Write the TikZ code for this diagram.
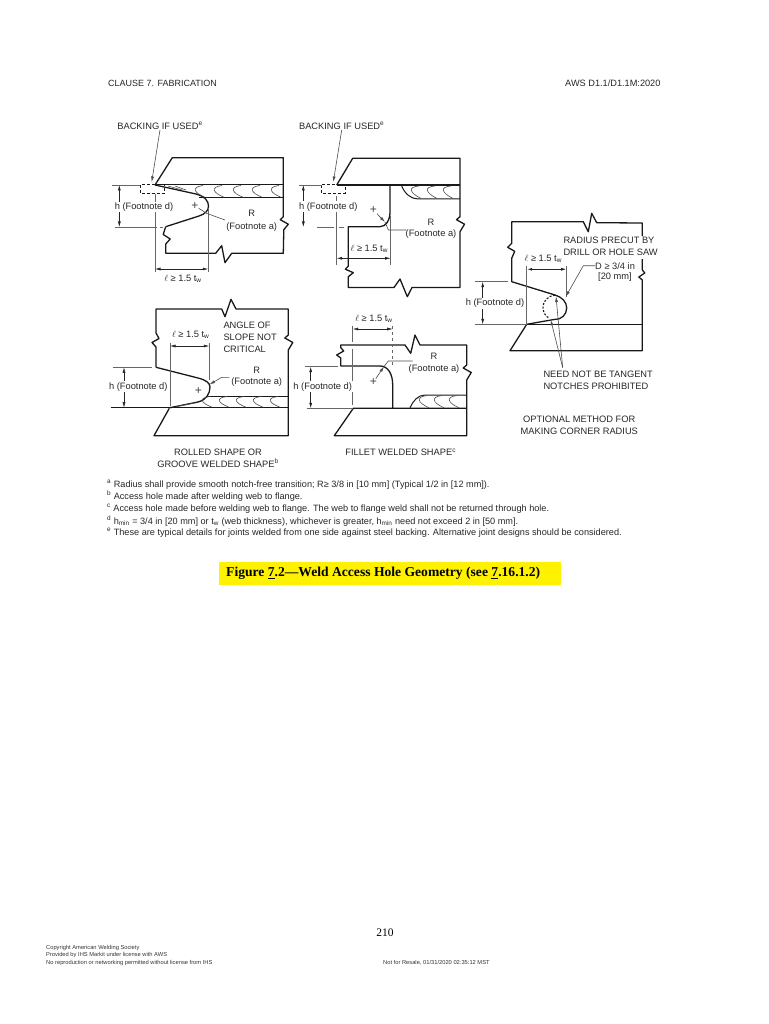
\documentclass[tikz,border=0pt]{standalone}
\usepackage{fontspec}
\setmainfont{Liberation Sans}
\newfontfamily\titlefont{Liberation Serif}
\usetikzlibrary{arrows.meta}

\begin{document}
\begin{tikzpicture}[x=1pt, y=-1pt, >={Latex[length=5.5pt,width=3pt]}]
\tikzstyle{lbl}=[inner sep=0pt, font=\fontsize{9.3}{10}\selectfont, text=black!85, align=center]
\tikzstyle{hlbl}=[lbl, fill=white, inner sep=1pt]
\tikzstyle{lblleft}=[lbl, anchor=west, align=left]
\tikzstyle{note}=[inner sep=0pt, anchor=west, font=\fontsize{9.15}{10}\selectfont, text=black!85]
\tikzstyle{small}=[inner sep=0pt, anchor=west, font=\fontsize{5.75}{6}\selectfont, text=black!80]
\tikzstyle{centre}=[inner sep=0pt, font=\fontsize{12}{12}\selectfont, text=black!75]
\tikzstyle{plate}=[draw=black!90, line width=1.3pt, line join=round]
\tikzstyle{weldline}=[draw=black!70, line width=0.6pt]
\tikzstyle{ext}=[draw=black!60, line width=0.5pt]
\tikzstyle{dim}=[draw=black!85, line width=0.6pt, <->]
\tikzstyle{lead}=[draw=black!70, line width=0.6pt]
\tikzstyle{backing}=[draw=black!90, line width=1pt, dashed, dash pattern=on 3pt off 2pt]

\useasboundingbox (0,0) rectangle (768,1024);

% page head
\node[note, font=\fontsize{9}{10}\selectfont] (head) at (108,83) {CLAUSE 7. FABRICATION};
\node[note, font=\fontsize{9.2}{10}\selectfont] (code) at (565,83) {AWS D1.1/D1.1M:2020};

% top left detail
\node[lbl] (backA) at (160,126) {BACKING IF USED\textsuperscript{e}};
\draw[plate] (155,185) -- (172.3,157.7) -- (283.3,157.7) -- (283.3,216.7) -- ++(-3,3) -- ++(8,4.5) -- ++(-4.5,5.5)
    -- (283.3,253.3) -- (231.7,253.3) -- (225,262.7) -- (221.7,245.7) -- (215.7,253.3) -- (165.7,253.3)
    -- (165.7,244) -- ++(4.5,-5) -- ++(-7,-4.5) -- ++(2.5,-7.8);
\draw[plate] (155,185) -- (196,194) .. controls (205,196.5) and (208.5,201) .. (208.5,206)
    .. controls (208.5,211) and (205,214) .. (199,216) -- (165.7,226.7);
\draw[plate, line width=1pt] (155,185) -- (283.3,185) (199,197.7) -- (283.3,197.7);
\foreach \x in {196,215,234,253,272}
    \draw[weldline] (\x+7,185.5) .. controls (\x-5,187) and (\x-2,193) .. (\x+9,197.2);
\draw[weldline] (168,186) -- (182,190) (175,186) -- (186,190);
\draw[backing] (140,185) rectangle (164,193.3);
\draw[lead, ->] (backA.south) -- (151.7,182);
\coordinate (hA1) at (119.3,185);
\coordinate (hA2) at (119.3,227);
\draw[ext] (112,185) -- (140,185) (115,227) -- (157,227) (160,227) -- (163,227);
\draw[ext] (155,194) -- (155,272) (208.3,208) -- (208.3,272);
\draw[dim] (hA1) -- (hA2);
\node[hlbl] (hfootA) at (144,207) {h (Footnote d)};
\coordinate (lA1) at (155,269);
\coordinate (lA2) at (208.3,269);
\draw[dim] (lA1) -- (lA2);
\node[lbl] (lenA) at (183,279) {$\ell$ ≥ 1.5 t\textsubscript{w}};
\node[centre] (crossA) at (195,206) {+};
\node[lbl] (rA) at (251.7,213.3) {R};
\node[lbl] (footA) at (251.7,226.7) {(Footnote a)};
\coordinate (tipA) at (207,213.5);
\draw[lead] (crossA) -- (tipA) -- (225,220);

% top middle detail
\node[lbl] (backB) at (341.7,126) {BACKING IF USED\textsuperscript{e}};
\draw[plate] (336.7,185) -- (352.7,158.3) -- (460,158.3) -- (460,216.7) -- ++(-3.5,3) -- ++(8,4.5) -- ++(-4.5,7.5)
    -- (460,287.5) -- (412,287.5) -- (407.3,296.7) -- (400,279) -- (394,287.5) -- (348.3,287.5)
    -- (348.3,276.7) -- ++(5,-4) -- ++(-8,-3.5) -- ++(3,-3) -- (348.3,226.7) -- (380,226.7)
    .. controls (386,226.7) and (390,220) .. (390,212) -- (390,185);
\draw[plate] (336.7,185) -- (460,185);
\draw[plate, line width=1pt] (401.7,186) .. controls (405,194) and (411,199) .. (418.3,199) -- (460,199);
\foreach \x in {412,428,444}
    \draw[weldline] (\x+7,186) .. controls (\x-5,187) and (\x-2,193) .. (\x+9,198.5);
\draw[backing] (321.7,185) rectangle (345,193.3);
\draw[lead, ->] (backB.south) -- (333.3,182);
\coordinate (hB1) at (303.3,185);
\coordinate (hB2) at (303.3,227);
\draw[ext] (299.3,185) -- (321.7,185) (316.7,227) -- (334,227) (339,227) -- (344,227);
\draw[ext] (336.7,196) -- (336.7,265) (390.7,216) -- (390.7,265);
\draw[dim] (hB1) -- (hB2);
\node[hlbl] (hfootB) at (328.3,206.7) {h (Footnote d)};
\coordinate (lB1) at (336.7,258.3);
\coordinate (lB2) at (390.7,258.3);
\draw[dim] (lB1) -- (lB2);
\node[lbl] (lenB) at (369.3,249.3) {$\ell$ ≥ 1.5 t\textsubscript{w}};
\node[centre] (crossB) at (373.3,210) {+};
\node[lbl] (rB) at (431,222.3) {R};
\node[lbl] (footB) at (431,234.3) {(Footnote a)};
\coordinate (tipB) at (385,222);
\draw[lead, ->] (crossB) -- (tipB);
\draw[lead] (tipB) -- (388.3,230) -- (406.7,230);

% lower left detail
\draw[plate] (156,367.3) -- (156,347) -- ++(-4,-4.5) -- ++(7,-4) -- ++(-3,-5.5) -- (156,309) -- (221.7,309)
    -- (225,316.7) -- (231,299.3) -- (236,309) -- (288.3,309) -- (288.3,335) -- ++(-3.5,3) -- ++(8,4.5) -- ++(-4.5,7.5)
    -- (288.3,435.7) -- (154,435.7) -- (169.3,408.3);
\draw[plate] (156,367.3) -- (198,378) .. controls (206,380) and (210,383) .. (210,387)
    .. controls (210,394) and (206,400) .. (198,402) -- (170,407.7);
\draw[plate] (110.7,407.7) -- (288.3,407.7);
\draw[plate, line width=1pt] (206,396) -- (288.3,396);
\foreach \x in {203,220,237,254,271}
    \draw[weldline] (\x+7,396.5) .. controls (\x-5,398) and (\x-2,403) .. (\x+9,407.2);
\draw[weldline] (176,406.5) -- (195,403);
\coordinate (lC1) at (170,346);
\coordinate (lC2) at (209.3,346);
\draw[ext] (170,343) -- (170,406) (209.3,343) -- (209.3,380);
\draw[dim] (lC1) -- (lC2);
\node[lbl] (lenC) at (190.7,334.3) {$\ell$ ≥ 1.5 t\textsubscript{w}};
\coordinate (hC1) at (124,367.3);
\coordinate (hC2) at (124,407.7);
\draw[ext] (112.7,367.3) -- (151.7,367.3);
\draw[dim] (hC1) -- (hC2);
\node[hlbl] (hfootC) at (138.3,386.7) {h (Footnote d)};
\node[lblleft] (angleC) at (223.3,337.3) {ANGLE OF\\[1.6pt]SLOPE NOT\\[1.6pt]CRITICAL};
\node[lbl] (rC) at (256.7,370) {R};
\node[lbl] (footC) at (256.7,382.3) {(Footnote a)};
\node[centre] (crossC) at (198.3,390.7) {+};
\coordinate (tipC) at (209.5,384.5);
\draw[lead, ->] (229.3,377.3) -- (221.7,377.3) -- (tipC);
\node[lbl] (capC) at (218,458) {ROLLED SHAPE OR\\[1.6pt]GROOVE WELDED SHAPE\textsuperscript{b}};

% lower middle detail
\draw[plate] (392.7,408.3) -- (392.7,385) .. controls (392.7,374) and (388,366) .. (380,366) -- (340.7,366)
    -- (340.7,358) -- ++(-4,-3) -- ++(7,-4) -- ++(-3,-3.5) -- (340.7,345) -- (405,345) -- (410.7,353.3)
    -- (415,335) -- (420,345) -- (466.7,345) -- (466.7,365) -- ++(-3.5,3) -- ++(8,4.5) -- ++(-4.5,7.5)
    -- (466.7,435.7) -- (334.3,435.7) -- (353.3,408.3) -- (466.7,408.3);
\draw[plate, line width=1pt] (410,407.7) .. controls (413,401) and (418,395) .. (425,395) -- (466.7,395);
\foreach \x in {420,435,450}
    \draw[weldline] (\x+7,395.5) .. controls (\x-5,397) and (\x-2,403) .. (\x+9,407.7);
\coordinate (lD1) at (352.7,329);
\coordinate (lD2) at (392.7,329);
\draw[ext] (352.7,326) -- (352.7,342) (352.7,349) -- (352.7,405);
\draw[ext, dashed] (392.7,326) -- (392.7,365);
\draw[dim] (lD1) -- (lD2);
\node[lbl] (lenD) at (374,319) {$\ell$ ≥ 1.5 t\textsubscript{w}};
\coordinate (hD1) at (310.7,366.7);
\coordinate (hD2) at (310.7,408.3);
\draw[ext] (305,366.7) -- (338.3,366.7) (306.7,408.3) -- (353.3,408.3);
\draw[dim] (hD1) -- (hD2);
\node[hlbl] (hfootD) at (322.7,386.7) {h (Footnote d)};
\node[lbl] (rD) at (434,356.7) {R};
\node[lbl] (footD) at (434,369) {(Footnote a)};
\node[centre] (crossD) at (373.3,382.3) {+};
\coordinate (tipD) at (384,366.5);
\draw[lead, ->] (crossD) -- (tipD);
\draw[lead] (tipD) -- (388.3,361) -- (412.7,361);
\node[lbl] (capD) at (400.7,452.3) {FILLET WELDED SHAPE\textsuperscript{c}};

% right detail
\draw[plate] (642.3,236) -- (642.3,223) -- (596.7,222.7) -- (591.7,213.3) -- (588.3,231.7) -- (583.3,221.7) -- (511.7,221.7)
    -- (511.7,243.3) -- ++(-4,4) -- ++(7,4) -- ++(-3,7) -- (511.7,281.7) -- (555,295)
    .. controls (562,297) and (566.7,302) .. (566.7,308) .. controls (566.7,315) and (561,320) .. (554,319.5)
    -- (526.7,324.3) -- (510,350.7) -- (642.3,350.7) -- (642.3,295) -- (642.3,280) -- ++(-3.5,-3) -- ++(6,-4) -- ++(-2.5,-3)
    -- (642.3,259);
\draw[plate, line width=1pt] (526.7,324.3) -- (642.3,324.3);
\draw[plate, line width=1.1pt, dashed, dash pattern=on 2pt off 1.6pt] (555,295) .. controls (548,296) and (543,301) .. (543,307)
    .. controls (543,312) and (545,316) .. (549,318);
\coordinate (lE1) at (526.7,269.3);
\coordinate (lE2) at (566.7,269.3);
\draw[ext] (526.7,266) -- (526.7,324) (566.7,266) -- (566.7,296.7);
\draw[dim, line width=1pt] (lE1) -- (lE2);
\node[lbl] (lenE) at (543.3,259.3) {$\ell$ ≥ 1.5 t\textsubscript{w}};
\coordinate (hE1) at (482.7,281.7);
\coordinate (hE2) at (482.7,324.3);
\draw[ext] (475,281.7) -- (508.3,281.7) (475,324.3) -- (526.7,324.3);
\draw[dim] (hE1) -- (hE2);
\node[hlbl] (hfootE) at (495,303.3) {h (Footnote d)};
\node[lblleft] (radiusE) at (563.3,246.5) {RADIUS PRECUT BY\\[1.6pt]DRILL OR HOLE SAW};
\node[lblleft] (diamE) at (595,265.7) {D ≥ 3/4 in};
\node[lbl] (mmE) at (615,277.3) {[20 mm]};
\coordinate (tipE) at (565.7,296.7);
\draw[lead, ->] (diamE.west) -- (583.3,265.7) -- (tipE);
\node[lblleft] (needE) at (543.3,380.5) {NEED NOT BE TANGENT\\[1.6pt]NOTCHES PROHIBITED};
\coordinate (forkE) at (562.7,367.7);
\coordinate (upE) at (556,296.5);
\coordinate (lowE) at (550.7,319.8);
\draw[lead, ->] (forkE) -- (upE);
\draw[lead, ->] (forkE) -- (lowE);
\node[lbl] (optE) at (579.3,425) {OPTIONAL METHOD FOR\\[1.6pt]MAKING CORNER RADIUS};

% footnotes
\node[note] (fna) at (107,484.5) {\textsuperscript{a} Radius shall provide smooth notch-free transition; R≥ 3/8 in [10 mm] (Typical 1/2 in [12 mm]).};
\node[note] (fnb) at (107,496.5) {\textsuperscript{b} Access hole made after welding web to flange.};
\node[note] (fnc) at (107,508.5) {\textsuperscript{c} Access hole made before welding web to flange. The web to flange weld shall not be returned through hole.};
\node[note] (fnd) at (107,521) {\textsuperscript{d} h\textsubscript{min} = 3/4 in [20 mm] or t\textsubscript{w} (web thickness), whichever is greater, h\textsubscript{min} need not exceed 2 in [50 mm].};
\node[note] (fne) at (107,533) {\textsuperscript{e} These are typical details for joints welded from one side against steel backing. Alternative joint designs should be considered.};

% caption
\node[fill=yellow, minimum width=342pt, minimum height=23pt, inner sep=0pt] (caption) at (390,573.5) {};
\node[inner sep=0pt, anchor=west, font=\titlefont\bfseries\fontsize{13.6}{15}\selectfont] (captiontext) at (226,573.5)
    {Figure \underline{7}.2—Weld Access Hole Geometry (see \underline{7}.16.1.2)};

% page foot
\node[inner sep=0pt, font=\titlefont\fontsize{11.5}{12}\selectfont] (pagenum) at (385,933) {210};
\node[small] (copy1) at (46,948) {Copyright American Welding Society};
\node[small] (copy2) at (46,955.3) {Provided by IHS Markit under license with AWS};
\node[small] (copy3) at (46,962.6) {No reproduction or networking permitted without license from IHS};
\node[small] (resale) at (383,962.6) {Not for Resale, 01/31/2020 02:35:12 MST};
\end{tikzpicture}
\end{document}
